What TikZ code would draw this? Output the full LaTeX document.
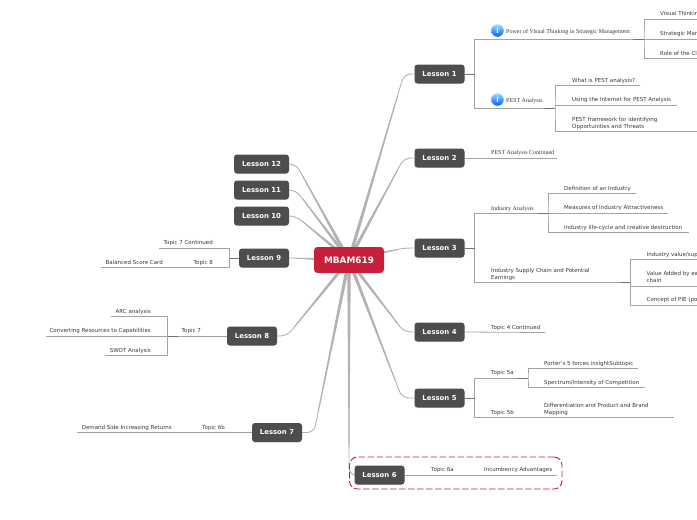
\documentclass[tikz,border=0pt]{standalone}
\usepackage{fontspec}
\setmainfont{DejaVu Sans}
\newfontfamily\serifface{Liberation Serif}
\usetikzlibrary{calc,backgrounds,shadows}
\definecolor{lessongrey}{HTML}{4D4D4D}
\definecolor{rootred}{HTML}{C8203A}
\definecolor{inkgrey}{HTML}{383838}
\tikzset{
    lesson/.style={
        rectangle, rounded corners=3pt, fill=lessongrey, text=white,
        minimum width=50pt, minimum height=19pt, inner sep=0pt,
        font=\fontsize{6.9}{8}\selectfont\bfseries,
        drop shadow={opacity=.18,shadow xshift=0pt,shadow yshift=-.7pt}
    },
    rootnode/.style={
        rectangle, rounded corners=3.5pt, fill=rootred, text=white,
        minimum width=70pt, minimum height=26pt, inner sep=0pt,
        font=\fontsize{8.9}{10}\selectfont\bfseries
    },
    topic/.style={
        anchor=base west, inner sep=0pt, text=inkgrey, align=left,
        font=\fontsize{5.5}{7}\selectfont
    },
    topicleft/.style={topic, anchor=base east, align=right},
    topicserif/.style={topic, font=\fontsize{6}{7}\selectfont\serifface},
    infoicon/.style={
        circle, minimum size=12.5pt, inner sep=0pt, text=white,
        top color=blue!30!cyan!40!white, bottom color=blue!65!cyan,
        font=\fontsize{7}{7}\selectfont\bfseries
    },
    twig/.style={draw=black!36, line width=.8pt},
    stub/.style={draw=black!55, line width=1pt},
    spokefill/.style={fill=black!30},
    spokeend/.style={draw=black!30, line width=.9pt, rounded corners=7pt}
}
\newcommand{\spoke}[2]{
    \coordinate (k) at #2;
    \coordinate (kk) at ($(MBAM.center)!.88!(k)$);
    \draw[spokeend] (MBAM.center) -- (k) -- (#1);
    \fill[spokefill] ($(MBAM.center)!1.8pt!90:(kk)$) -- ($(kk)!.45pt!-90:(MBAM.center)$)
        -- ($(kk)!.45pt!90:(MBAM.center)$) -- ($(MBAM.center)!1.8pt!-90:(kk)$) -- cycle;
}
\begin{document}
\begin{tikzpicture}[x=1pt,y=-1pt]
    \useasboundingbox (0,0) rectangle (697,520);

    \node[rootnode] (MBAM) at (349,260) {MBAM619};
    \node[lesson] (L1) at (439.5,74) {Lesson 1};
    \node[lesson] (L2) at (439.5,158) {Lesson 2};
    \node[lesson] (L3) at (439.5,248) {Lesson 3};
    \node[lesson] (L4) at (439.5,332) {Lesson 4};
    \node[lesson] (L5) at (439.5,398) {Lesson 5};
    \node[lesson] (L6) at (379.5,475) {Lesson 6};
    \node[lesson] (L7) at (277,432.5) {Lesson 7};
    \node[lesson] (L8) at (252,336) {Lesson 8};
    \node[lesson] (L9) at (264,258) {Lesson 9};
    \node[lesson,minimum width=55pt] (L10) at (261.5,216) {Lesson 10};
    \node[lesson,minimum width=55pt] (L11) at (261.5,190) {Lesson 11};
    \node[lesson,minimum width=55pt] (L12) at (261.5,164) {Lesson 12};
    \node[draw=rootred, dashed, dash pattern=on 6.5pt off 2.5pt, line width=.95pt,
          rounded corners=8pt, minimum width=212.5pt, minimum height=32pt] (L6box) at (455.75,473) {};

    % lesson 1
    \node[infoicon] (iconA) at (497.5,30.5) {i};
    \node[infoicon] (iconB) at (497.5,99.5) {i};
    \node[topicserif] (powerVT) at (506,33) {Power of Visual Thinking in Strategic Management};
    \node[topicserif] (pest) at (506,102) {PEST Analysis};
    \node[topic] (visual) at (660,15.5) {Visual Thinkin};
    \node[topic] (strategic) at (660,35.5) {Strategic Man};
    \node[topic] (role) at (660,55) {Role of the Cl};
    \node[topic] (whatPest) at (572,82) {What is PEST analysis?};
    \node[topic] (internet) at (572,101.5) {Using the Internet for PEST Analysis};
    \node[topic] (framework) at (572,128) {PEST framework for identifying\\Opportunities and Threats};
    \coordinate (L1bar) at (474.5,74);
    \coordinate (powerEnd) at (633,39);
    \coordinate (powerBar) at (644,39);
    \coordinate (pestEnd) at (545,108.5);
    \coordinate (pestBar) at (555,108.5);
    \coordinate (visualEnd) at (697,19);
    \coordinate (strategicEnd) at (697,39);
    \coordinate (roleEnd) at (697,58.5);
    \coordinate (whatPestEnd) at (640,85.5);
    \coordinate (internetEnd) at (677,105);
    \coordinate (frameworkEnd) at (697,131);

    % lessons 2 to 4
    \node[topicserif] (pestCont) at (491,154.5) {PEST Analysis Continued};
    \node[topicserif] (industry) at (491,210) {Industry Analysis};
    \node[topic] (supply) at (491,279) {Industry Supply Chain and Potential\\Earnings};
    \node[topic] (definition) at (564,190) {Definition of an Industry};
    \node[topic] (measures) at (564,209.5) {Measures of Industry Attractiveness};
    \node[topic] (lifecycle) at (564,229) {Industry life-cycle and creative destruction};
    \node[topic] (valueSup) at (646.5,256) {Industry value/sup};
    \node[topic] (valueAdd) at (646.5,282.5) {Value Added by ea\\chain};
    \node[topic] (pie) at (646.5,301.5) {Concept of PIE (po};
    \node[topic] (topic4) at (491,329) {Topic 4 Continued};
    \coordinate (pestContEnd) at (557,158);
    \coordinate (L3bar) at (474.5,248);
    \coordinate (industryEnd) at (538,213);
    \coordinate (industryBar) at (548,213);
    \coordinate (supplyEnd) at (620,282.5);
    \coordinate (supplyBar) at (630.5,282.5);
    \coordinate (definitionEnd) at (636,193.5);
    \coordinate (measuresEnd) at (668,213);
    \coordinate (lifecycleEnd) at (689,232.5);
    \coordinate (valueSupEnd) at (697,259.5);
    \coordinate (valueAddEnd) at (697,286);
    \coordinate (pieEnd) at (697,305);
    \coordinate (topic4End) at (545,332.5);

    % lessons 5 and 6
    \node[topic] (topic5a) at (491,374.5) {Topic 5a};
    \node[topic] (topic5b) at (491,414) {Topic 5b};
    \node[topic] (porter) at (544,365) {Porter's 5 forces insightSubtopic};
    \node[topic] (spectrum) at (544,384) {Spectrum/Intensity of Competition};
    \node[topic] (differ) at (544,414) {Differentiation and Product and Brand\\Mapping};
    \node[topic] (topic6a) at (431,471.5) {Topic 6a};
    \node[topic] (incumb) at (484,471.5) {Incumbency Advantages};
    \coordinate (L5bar) at (474.5,398);
    \coordinate (topic5aEnd) at (518,378);
    \coordinate (topic5aBar) at (528,378);
    \coordinate (porterEnd) at (638,368.5);
    \coordinate (spectrumEnd) at (645,387.5);
    \coordinate (differEnd) at (674,417);
    \coordinate (incumbEnd) at (557,475);

    % lessons 7 to 9
    \node[topicleft] (topic6b) at (225,429) {Topic 6b};
    \node[topicleft] (demand) at (172,429) {Demand Side Increasing Returns};
    \node[topicleft] (topic7) at (201,332.5) {Topic 7};
    \node[topicleft] (arc) at (151,313) {ARC analysis};
    \node[topicleft] (convert) at (151,332.5) {Converting Resources to Capabilities};
    \node[topicleft] (swot) at (151,352) {SWOT Analysis};
    \node[topicleft] (topic7c) at (213,244.5) {Topic 7 Continued};
    \node[topicleft] (topic8) at (213,264) {Topic 8};
    \node[topicleft] (balanced) at (163,264) {Balanced Score Card};
    \coordinate (demandEnd) at (77,432.5);
    \coordinate (topic7End) at (177.5,336);
    \coordinate (topic7Bar) at (167.5,336);
    \coordinate (arcEnd) at (111,316.5);
    \coordinate (convertEnd) at (46,336);
    \coordinate (swotEnd) at (105,355.5);
    \coordinate (L9bar) at (229.5,258);
    \coordinate (topic7cEnd) at (159,248);
    \coordinate (balancedEnd) at (101,267.5);

    \begin{scope}[on background layer]
        \spoke{L1.west}{(404,74)}
        \spoke{L2.west}{(404,158)}
        \spoke{L3.west}{(404,248)}
        \spoke{L4.west}{(404,332)}
        \spoke{L5.west}{(402,398)}
        \spoke{L6.west}{(349,475)}
        \spoke{L7.east}{(314,432.5)}
        \spoke{L8.east}{(287,336)}
        \spoke{L9.east}{(289,258)}
        \spoke{L10.east}{(296,216)}
        \spoke{L11.east}{(296,190)}
        \spoke{L12.east}{(296,164)}

        \draw[twig] (powerEnd) -| (L1bar) |- (pestEnd);
        \draw[stub] (L1.east) -- (L1bar);
        \draw[stub] (powerEnd) -- (powerBar);
        \draw[stub] (pestEnd) -- (pestBar);
        \draw[twig] (visualEnd) -| (powerBar) |- (roleEnd);
        \draw[twig] (powerBar) -- (strategicEnd);
        \draw[twig] (whatPestEnd) -| (pestBar) |- (frameworkEnd);
        \draw[twig] (pestBar |- internetEnd) -- (internetEnd);

        \draw[twig] (L2.east) -- (pestContEnd);
        \draw[twig] (industryEnd) -| (L3bar) |- (supplyEnd);
        \draw[stub] (L3.east) -- (L3bar);
        \draw[stub] (industryEnd) -- (industryBar);
        \draw[stub] (supplyEnd) -- (supplyBar);
        \draw[twig] (definitionEnd) -| (industryBar) |- (lifecycleEnd);
        \draw[twig] (industryBar) -- (measuresEnd);
        \draw[twig] (valueSupEnd) -| (supplyBar) |- (pieEnd);
        \draw[twig] (supplyBar |- valueAddEnd) -- (valueAddEnd);
        \draw[twig] (L4.east) -- (topic4End);

        \draw[twig] (topic5aEnd) -| (L5bar) |- (differEnd);
        \draw[stub] (L5.east) -- (L5bar);
        \draw[stub] (topic5aEnd) -- (topic5aBar);
        \draw[twig] (porterEnd) -| (topic5aBar) |- (spectrumEnd);
        \draw[twig] (L6.east) -- (incumbEnd);

        \draw[twig] (L7.west) -- (demandEnd);
        \draw[twig] (L8.west) -- (topic7End);
        \draw[stub] (topic7End) -- (topic7Bar);
        \draw[twig] (arcEnd) -| (topic7Bar) |- (swotEnd);
        \draw[twig] (topic7Bar) -- (convertEnd);
        \draw[stub] (L9.west) -- (L9bar);
        \draw[twig] (topic7cEnd) -| (L9bar) |- (balancedEnd);
    \end{scope}
\end{tikzpicture}
\end{document}
